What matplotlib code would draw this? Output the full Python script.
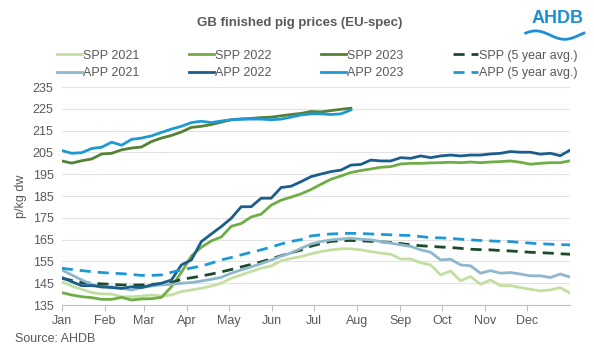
import matplotlib
matplotlib.use("Agg")
import matplotlib.pyplot as plt
import numpy as np

# weekly prices (p/kg dw), week 1..52
spp_2021 = [145.7, 143.7, 142.2, 140.7, 140.1, 140.0, 138.8, 138.8, 139.1, 139.6,
            139.1, 139.6, 141.2, 141.9, 142.7, 143.7, 145.0, 147.3, 148.8, 150.4,
            151.9, 152.9, 155.3, 156.4, 157.2, 158.5, 159.5, 160.3, 160.8, 160.8,
            160.3, 159.5, 158.8, 158.3, 156.1, 156.1, 154.4, 153.4, 148.8, 150.6,
            146.1, 148.1, 144.5, 146.5, 143.9, 143.9, 143.0, 142.2, 141.5, 141.9,
            143.0, 140.4]
spp_2022 = [140.7, 139.6, 138.8, 138.4, 137.6, 137.6, 138.5, 137.3, 137.8, 137.9,
            138.5, 143.4, 150.0, 157.5, 161.5, 164.4, 166.2, 171.1, 172.4, 175.4,
            176.7, 180.8, 183.1, 184.5, 186.0, 188.0, 190.4, 192.7, 194.2, 195.8,
            196.7, 197.4, 198.2, 198.5, 199.7, 200.0, 200.0, 200.2, 200.3, 200.5,
            200.3, 200.6, 200.3, 200.6, 200.8, 201.1, 200.5, 199.6, 200.0, 200.3,
            200.3, 201.2]
spp_2023 = [201.1, 200.1, 201.2, 202.0, 204.3, 204.6, 206.2, 207.0, 207.5, 210.0,
            211.6, 212.8, 214.4, 216.5, 217.0, 217.8, 218.9, 220.0, 220.4, 220.6,
            221.0, 221.2, 221.8, 222.4, 222.9, 223.8, 223.6, 224.2, 224.8, 225.3]
spp_5yr = [147.3, 146.3, 145.3, 145.0, 144.7, 144.5, 144.2, 144.2, 144.2, 144.5,
           144.7, 145.3, 146.8, 147.5, 148.3, 149.2, 150.2, 151.3, 152.5, 153.6,
           154.8, 156.2, 157.6, 159.0, 160.2, 162.0, 163.2, 164.2, 164.5, 164.6,
           164.5, 164.2, 164.0, 163.7, 163.2, 162.6, 162.2, 161.9, 161.6, 161.4,
           161.0, 160.6, 160.4, 160.3, 160.0, 159.8, 159.5, 159.2, 159.0, 158.8,
           158.5, 158.3]
app_2021 = [151.1, 148.8, 146.5, 144.5, 143.1, 143.4, 142.7, 141.9, 143.0, 143.7,
            144.2, 144.5, 145.0, 145.3, 146.0, 146.8, 147.7, 149.6, 151.1, 152.5,
            154.0, 155.6, 157.4, 158.9, 161.0, 163.0, 164.1, 164.9, 165.3, 165.6,
            165.2, 164.9, 164.1, 163.4, 162.6, 161.9, 160.3, 159.2, 155.7, 156.0,
            153.4, 153.0, 149.6, 150.8, 149.6, 149.9, 149.2, 148.4, 148.4, 147.6,
            149.2, 147.8]
app_2022 = [147.6, 145.7, 143.9, 143.9, 143.4, 143.0, 142.6, 143.4, 143.0, 144.2,
            145.0, 146.5, 153.4, 155.7, 164.1, 167.6, 171.0, 174.8, 180.1, 180.1,
            184.0, 184.0, 188.9, 189.5, 191.6, 193.9, 195.1, 196.2, 196.9, 199.2,
            199.5, 201.5, 201.1, 201.1, 202.6, 202.3, 203.4, 202.6, 203.4, 203.8,
            203.4, 203.8, 203.8, 204.3, 204.6, 205.4, 205.1, 205.1, 204.2, 204.6,
            203.5, 206.1]
app_2023 = [205.9, 204.6, 204.9, 206.8, 207.4, 209.7, 208.3, 211.0, 211.6, 212.6,
            214.2, 215.7, 217.0, 218.7, 219.3, 218.7, 219.4, 220.0, 220.2, 220.3,
            220.3, 220.0, 220.3, 221.2, 222.2, 222.7, 222.7, 222.4, 222.7, 224.5]
app_5yr = [151.9, 151.3, 150.8, 150.3, 149.9, 149.6, 149.4, 149.0, 148.6, 148.6,
           148.8, 150.0, 151.1, 152.0, 152.9, 154.2, 155.7, 156.8, 158.0, 159.2,
           160.3, 161.6, 163.0, 164.2, 165.0, 166.7, 167.2, 167.6, 167.8, 167.9,
           167.8, 167.6, 167.4, 167.2, 167.0, 166.9, 166.4, 165.9, 165.8, 165.6,
           165.2, 164.9, 164.6, 164.4, 164.2, 164.1, 163.7, 163.4, 163.1, 162.9,
           162.7, 162.6]

months = ["Jan", "Feb", "Mar", "Apr", "May", "Jun",
          "Jul", "Aug", "Sep", "Oct", "Nov", "Dec"]
month_start_day = [0, 31, 59, 90, 120, 151, 181, 212, 243, 273, 304, 334]

plt.rcParams["font.family"] = ["Liberation Sans", "DejaVu Sans"]
grey = "#595959"

fig = plt.figure(figsize=(5.94, 3.51), dpi=100)
ax = fig.add_axes([0.104, 0.131, 0.856, 0.621])

n_weeks = 52
day_per_week = 365 / (n_weeks - 1)


def xs(values):
    return np.arange(len(values)) * day_per_week


series = [
    ("SPP 2021", spp_2021, "#c3dfa0", "-"),
    ("SPP 2022", spp_2022, "#70ad47", "-"),
    ("SPP 2023", spp_2023, "#548235", "-"),
    ("SPP (5 year avg.)", spp_5yr, "#1d4a2a", (0, (4, 2.5))),
    ("APP 2021", app_2021, "#8db7cd", "-"),
    ("APP 2022", app_2022, "#1b5e8c", "-"),
    ("APP 2023", app_2023, "#1f98d6", "-"),
    ("APP (5 year avg.)", app_5yr, "#1f98d6", (0, (4, 2.5))),
]

handles = []
for label, vals, color, ls in series:
    h, = ax.plot(xs(vals), vals, color=color, lw=2, ls=ls, label=label)
    handles.append(h)

ax.set_xlim(0, 365)
ax.set_ylim(135, 235)
ax.set_yticks(np.arange(135, 236, 10))
ax.set_xticks(month_start_day)
ax.set_xticklabels(months)
ax.tick_params(axis="y", length=0, labelsize=9, labelcolor=grey, pad=6)
ax.tick_params(axis="x", length=4, color="#bfbfbf", labelsize=9,
               labelcolor=grey, pad=3)
ax.grid(axis="y", color="#e3e3e3", lw=0.8)
ax.set_axisbelow(True)
for s in ["top", "right", "left"]:
    ax.spines[s].set_visible(False)
ax.spines["bottom"].set_color("#bfbfbf")
ax.set_ylabel("p/kg dw", fontsize=9, color=grey, labelpad=4)

# legend in row order (4 columns x 2 rows)
order = [0, 4, 1, 5, 2, 6, 3, 7]
fig.legend([handles[i] for i in order], [series[i][0] for i in order],
           ncol=4, loc="upper left", bbox_to_anchor=(0.096, 0.858),
           frameon=False, fontsize=9, labelcolor=grey, handlelength=2.0,
           handletextpad=0.1, columnspacing=3.95, labelspacing=0.45,
           borderpad=0, borderaxespad=0)

fig.text(0.505, 0.935, "GB finished pig prices (EU-spec)", ha="center",
         va="center", fontsize=9.5, fontweight="bold", color=grey)
fig.text(0.025, 0.035, "Source: AHDB", fontsize=9, color=grey, va="center")

# AHDB logo
fig.text(0.983, 0.948, "AHDB", ha="right", va="center", fontsize=13,
         fontweight="bold", color="#1f8fd2")
wx = np.linspace(0.885, 0.983, 50)
wy = 0.9 + 0.012 * np.sin((wx - 0.885) / 0.098 * 2 * np.pi + 0.5)
fig.add_artist(plt.Line2D(wx, wy, color="#1f8fd2", lw=2,
                          transform=fig.transFigure))

fig.savefig("out.png", dpi=100)
